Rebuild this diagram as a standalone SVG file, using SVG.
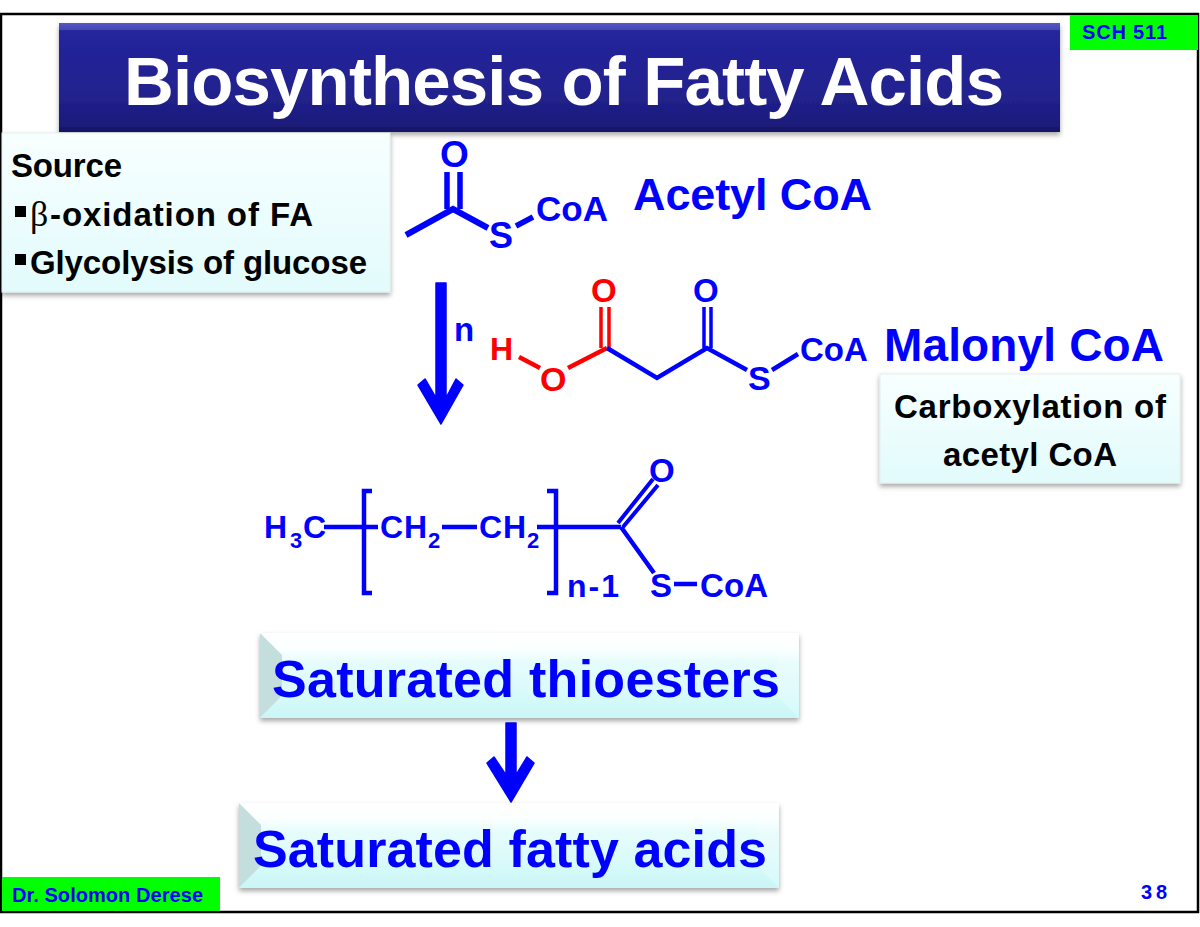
<svg xmlns="http://www.w3.org/2000/svg" width="1200" height="927" viewBox="0 0 1200 927">
<style>
text{font-family:"Liberation Sans",Arial,sans-serif;font-weight:700}
.k{fill:#000;font-size:33px}
.b{fill:#0000ff}
.r{fill:#ff0000}
.bond{stroke:#0000ff;stroke-width:4.5;fill:none}
.red{stroke:#ff0000;stroke-width:4.5;fill:none}
.big{font-size:52px;fill:#0000ff}
.tag{font-size:20px;fill:#0000ff}
.lb{fill:#c4dede}
.rb{fill:#ffffff;fill-opacity:0.18}
.bb{fill:url(#bbg)}
</style>
<defs>
<linearGradient id="tg" x1="0" y1="0" x2="0" y2="1"><stop offset="0" stop-color="#5557c8"/><stop offset="0.06" stop-color="#4446b4"/><stop offset="0.07" stop-color="#25259c"/><stop offset="0.6" stop-color="#222290"/><stop offset="0.93" stop-color="#1c1c7c"/><stop offset="1" stop-color="#141460"/></linearGradient>
<linearGradient id="lg" x1="0" y1="0" x2="0" y2="1"><stop offset="0" stop-color="#f8ffff"/><stop offset="1" stop-color="#e2fbfc"/></linearGradient>
<linearGradient id="bg" x1="0" y1="0" x2="0" y2="1"><stop offset="0" stop-color="#ffffff"/><stop offset="0.18" stop-color="#fbffff"/><stop offset="0.35" stop-color="#e6fcfc"/><stop offset="1" stop-color="#cef8f9"/></linearGradient>
<linearGradient id="bbg" x1="0" y1="0" x2="0" y2="1"><stop offset="0" stop-color="#d6fafa"/><stop offset="1" stop-color="#cbf5f6"/></linearGradient>
<filter id="sh" x="-5%" y="-10%" width="110%" height="125%"><feDropShadow dx="0" dy="3" stdDeviation="2.5" flood-color="#000" flood-opacity="0.35"/></filter>
</defs>
<rect width="1200" height="927" fill="#fff"/>
<rect x="1" y="14" width="1197" height="898" fill="#fff" stroke="#000" stroke-width="2.5"/>

<g id="title">
<rect x="59" y="23" width="1001" height="109" fill="url(#tg)" filter="url(#sh)"/>
<text x="124" y="105" font-size="69" fill="#fff" textLength="880" lengthAdjust="spacing">Biosynthesis of Fatty Acids</text>
</g>
<g id="course-tag">
<rect x="1070" y="15" width="128" height="35" fill="#00ff00"/>
<text x="1082" y="39" class="tag" textLength="85" lengthAdjust="spacing">SCH 511</text>
</g>
<g id="source">
<rect x="2" y="133" width="388" height="159" fill="url(#lg)" stroke="#e4eeee" filter="url(#sh)"/>
<text x="11" y="177" class="k" textLength="111" lengthAdjust="spacing">Source</text>
<rect x="15" y="206" width="11" height="11" fill="#000"/>
<text x="30" y="226" class="k" style="font-family:'Liberation Serif',serif;font-weight:400;font-size:36px">β</text>
<text x="50" y="226" class="k" textLength="263" lengthAdjust="spacing">-oxidation of FA</text>
<rect x="15" y="254" width="11" height="11" fill="#000"/>
<text x="30" y="274" class="k" textLength="337" lengthAdjust="spacing">Glycolysis of glucose</text>
</g>
<g id="carboxylation">
<rect x="880" y="374" width="300" height="109" fill="url(#lg)" stroke="#e4eeee" filter="url(#sh)"/>
<text x="1030" y="418" class="k" text-anchor="middle" textLength="272" lengthAdjust="spacing">Carboxylation of</text>
<text x="1030" y="466" class="k" text-anchor="middle" textLength="174" lengthAdjust="spacing">acetyl CoA</text>
</g>

<g id="connectors">
<path class="bond" style="stroke-width:6" d="M406 235L453 209L488 228"/>
<path class="bond" style="stroke-width:5.5" d="M447 172V209M460 172V209M516 226L533 217"/>
<path d="M436 283H446V398L456 379L463 385L441 424L418 385L425 379L436 398Z" fill="#0000ff" stroke="#0000ff" stroke-width="1.5" stroke-linejoin="round"/>
<path class="red" d="M519 357L540 368M568 368L607 348"/>
<path class="red" style="stroke-width:3.5" d="M601 307V348M609 307V348"/>
<path class="bond" d="M607 348L657 378L707 348L747 370M772 370L798 354"/>
<path class="bond" style="stroke-width:3.5" d="M704 307V348M711 307V348"/>
<path class="bond" d="M324 527H378M442 527H477M537 527H621"/>
<path class="bond" d="M372 491H364V593H372M547 491H556V593H547"/>
<path class="bond" style="stroke-width:4" d="M618 523L653 479M623 527L658 485"/>
<path class="bond" d="M621 527L654 573M674 584H697"/>
<path d="M506 723H516V775L527 757L534 763L511 802L487 763L494 757L506 775Z" fill="#0000ff" stroke="#0000ff" stroke-width="1.5" stroke-linejoin="round"/>
</g>

<g id="acetyl-coa">
<text x="440" y="167" class="b" font-size="37">O</text>
<text x="489" y="248" class="b" font-size="36">S</text>
<text x="536" y="221" class="b" font-size="35">CoA</text>
<text x="633" y="210" class="b" font-size="45" textLength="239" lengthAdjust="spacing">Acetyl CoA</text>
</g>
<g id="n-label"><text x="454" y="341" class="b" font-size="33">n</text></g>
<g id="malonyl-coa">
<text x="490" y="360" class="r" font-size="32">H</text>
<text x="540" y="391" class="r" font-size="34">O</text>
<text x="591" y="302" class="r" font-size="33">O</text>
<text x="693" y="302" class="b" font-size="33">O</text>
<text x="748" y="390" class="b" font-size="34">S</text>
<text x="800" y="361" class="b" font-size="33">CoA</text>
<text x="884" y="361" class="b" font-size="46" textLength="280" lengthAdjust="spacing">Malonyl CoA</text>
</g>
<g id="thioester-structure">
<text x="264" y="538" class="b" font-size="32">H</text>
<text x="290" y="548" class="b" font-size="22">3</text>
<text x="303" y="538" class="b" font-size="32">C</text>
<text x="380" y="538" class="b" font-size="32" textLength="47" lengthAdjust="spacing">CH</text>
<text x="428" y="548" class="b" font-size="22">2</text>
<text x="479" y="538" class="b" font-size="32" textLength="47" lengthAdjust="spacing">CH</text>
<text x="527" y="548" class="b" font-size="22">2</text>
<text x="567" y="597" class="b" font-size="32" textLength="52" lengthAdjust="spacing">n-1</text>
<text x="650" y="597" class="b" font-size="33">S</text>
<text x="700" y="597" class="b" font-size="33" textLength="68" lengthAdjust="spacing">CoA</text>
<text x="649" y="482" class="b" font-size="33">O</text>
</g>
<g id="saturated-thioesters">
<rect x="260" y="633" width="539" height="85" fill="url(#bg)" filter="url(#sh)"/>
<path d="M260 633L282 655V696L260 718Z" class="lb"/>
<path d="M799 633L777 655V696L799 718Z" class="rb"/>
<path d="M260 718L282 696H777L799 718Z" class="bb"/>
<text x="272" y="697" class="big" textLength="508" lengthAdjust="spacing">Saturated thioesters</text>
</g>
<g id="saturated-fatty-acids">
<rect x="239" y="803" width="540" height="85" fill="url(#bg)" filter="url(#sh)"/>
<path d="M239 803L261 825V866L239 888Z" class="lb"/>
<path d="M779 803L757 825V866L779 888Z" class="rb"/>
<path d="M239 888L261 866H757L779 888Z" class="bb"/>
<text x="253" y="867" class="big" textLength="514" lengthAdjust="spacing">Saturated fatty acids</text>
</g>
<g id="author-tag">
<rect x="2" y="877" width="218" height="34" fill="#00ff00"/>
<text x="12" y="902" class="tag" textLength="191" lengthAdjust="spacing">Dr. Solomon Derese</text>
</g>
<g id="page-number"><text x="1141" y="899" class="tag" textLength="26" lengthAdjust="spacing">38</text></g>
</svg>
